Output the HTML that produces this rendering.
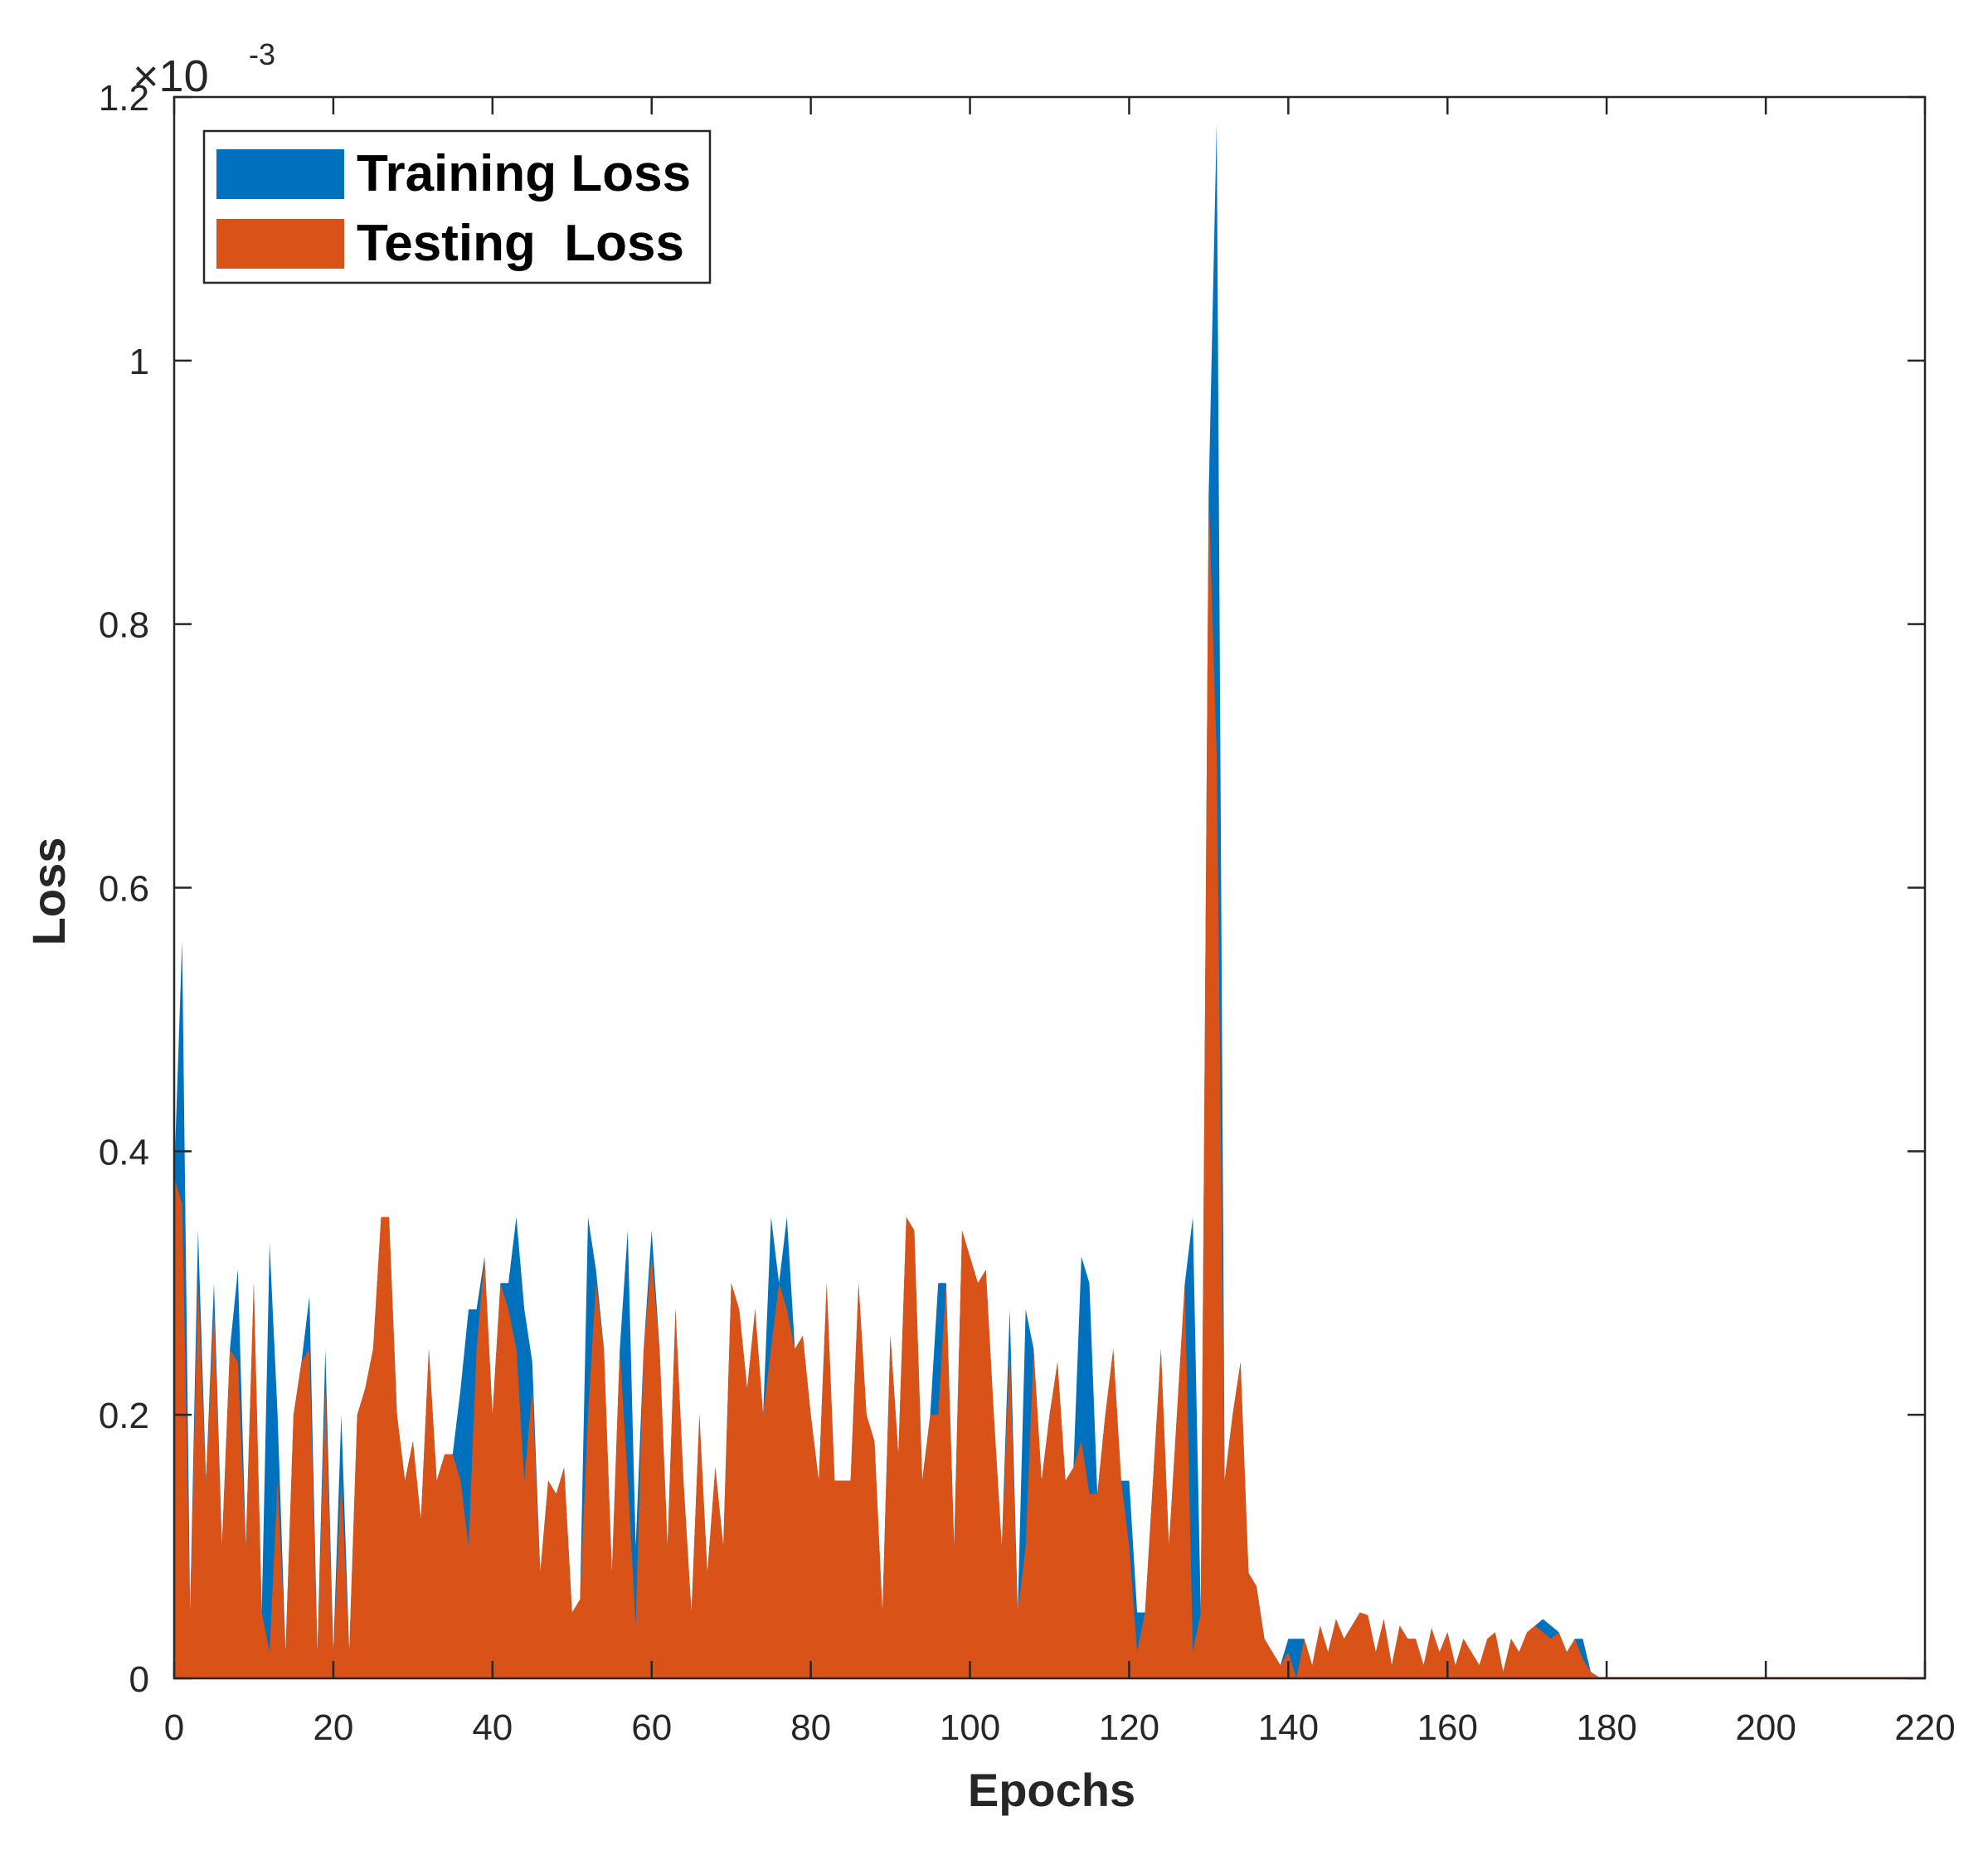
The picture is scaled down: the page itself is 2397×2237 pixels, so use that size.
<!DOCTYPE html>
<html><head><meta charset="utf-8"><style>
html,body{margin:0;padding:0;background:#fff;width:2397px;height:2237px;overflow:hidden}
text{font-family:"Liberation Sans",sans-serif}
</style></head><body>
<svg id="s" width="2397" height="2237" viewBox="0 0 2397 2237" xmlns="http://www.w3.org/2000/svg">
<rect width="2397" height="2237" fill="#fff"/>
<g id="data"></g>
<rect x="210" y="117" width="2111" height="1907" fill="none" stroke="#262626" stroke-width="2.5"/>
<g id="ticks" stroke="#262626" stroke-width="2.5"></g>
<g id="labels" font-size="44" fill="#262626"></g>
<text x="160" y="110" font-size="54" fill="#262626">×10</text>
<text x="300" y="78" font-size="36" fill="#262626">-3</text>
<text x="1268" y="2178" font-size="56" font-weight="bold" text-anchor="middle" fill="#262626">Epochs</text>
<text transform="translate(78,1075) rotate(-90)" font-size="56" font-weight="bold" text-anchor="middle" fill="#262626">Loss</text>
<rect x="246" y="158" width="610" height="183" fill="#fff" stroke="#262626" stroke-width="2.5"/>
<rect x="261" y="180" width="154" height="60" fill="#0072BD"/>
<rect x="261" y="264" width="154" height="60" fill="#D95319"/>
<text x="430" y="230" font-size="62" font-weight="bold" fill="#000">Training Loss</text>
<text x="430" y="314" font-size="62" font-weight="bold" fill="#000">Testing&#160; Loss</text>
</svg>
<script>
var o=[0.38,0.36,0.05,0.3,0.15,0.28,0.1,0.25,0.24,0.1,0.3,0.05,0.02,0.15,0.02,0.2,0.24,0.25,0.02,0.22,0.02,0.15,0.02,0.2,0.22,0.25,0.35,0.35,0.2,0.15,0.18,0.12,0.25,0.15,0.17,0.17,0.15,0.1,0.25,0.32,0.2,0.3,0.28,0.25,0.15,0.22,0.08,0.15,0.14,0.16,0.05,0.06,0.2,0.3,0.25,0.08,0.25,0.15,0.04,0.25,0.32,0.25,0.1,0.28,0.15,0.05,0.2,0.08,0.16,0.1,0.3,0.28,0.22,0.28,0.2,0.25,0.3,0.28,0.25,0.26,0.2,0.15,0.3,0.15,0.15,0.15,0.3,0.2,0.18,0.05,0.26,0.17,0.35,0.34,0.15,0.2,0.2,0.3,0.1,0.34,0.32,0.3,0.31,0.2,0.1,0.25,0.05,0.1,0.25,0.15,0.2,0.24,0.15,0.16,0.18,0.14,0.14,0.2,0.25,0.15,0.1,0.02,0.05,0.15,0.25,0.1,0.2,0.3,0.02,0.05,0.9,0.7,0.15,0.2,0.24,0.08,0.07,0.03,0.02,0.01,0.02];
var sm=[0,0.03,0.01,0.04,0.02,0.045,0.03,0.04,0.05,0.048,0.02,0.045,0.01,0.04,0.03,0.03,0.01,0.038,0.02,0.035,0.01,0.03,0.02,0.01,0.03,0.035,0.005,0.03,0.02,0.035,0.04,0.035,0.03,0.035,0.02,0.03,0.015,0.005];
for(var i=0;i<sm.length;i++)o.push(sm[i]);
while(o.length<=220)o.push(0.001);
var b=o.slice();
var ex={1:0.56,3:0.34,5:0.3,8:0.31,12:0.33,13:0.2,17:0.29,19:0.25,21:0.2,36:0.22,37:0.28,38:0.28,42:0.3,43:0.35,44:0.28,45:0.24,52:0.35,53:0.31,57:0.34,58:0.1,60:0.34,75:0.35,77:0.35,96:0.3,105:0.28,107:0.28,114:0.32,115:0.3,120:0.15,121:0.05,128:0.35,131:1.18,140:0.03,141:0.03,172:0.045,173:0.04,177:0.03};
for(var k in ex)b[k]=Math.max(b[k],ex[k]);
var X0=210,W=2111,Y0=2024,H=1907;
function X(e){return X0+e/220*W}function Y(v){return Y0-v/1.2*H}
function poly(a,c){var p=X(0)+','+Y0;for(var i=0;i<=220;i++)p+=' '+X(i).toFixed(1)+','+Y(a[i]).toFixed(1);p+=' '+X(220)+','+Y0;
return '<polygon points="'+p+'" fill="'+c+'"/>';}
document.getElementById('data').innerHTML=poly(b,'#0072BD')+poly(o,'#D95319');
var t='',l='';
for(var e=0;e<=220;e+=20){var x=X(e);t+='<line x1="'+x+'" y1="'+Y0+'" x2="'+x+'" y2="'+(Y0-21)+'"/><line x1="'+x+'" y1="117" x2="'+x+'" y2="138"/>';
l+='<text x="'+x+'" y="2098" text-anchor="middle">'+e+'</text>';}
var yl=['0','0.2','0.4','0.6','0.8','1','1.2'];
for(var j=0;j<=6;j++){var y=Y(j*0.2);t+='<line x1="210" y1="'+y+'" x2="231" y2="'+y+'"/><line x1="'+(X0+W)+'" y1="'+y+'" x2="'+(X0+W-21)+'" y2="'+y+'"/>';
l+='<text x="180" y="'+(y+16)+'" text-anchor="end">'+yl[j]+'</text>';}
document.getElementById('ticks').innerHTML=t;document.getElementById('labels').innerHTML=l;
</script>
</body></html>
